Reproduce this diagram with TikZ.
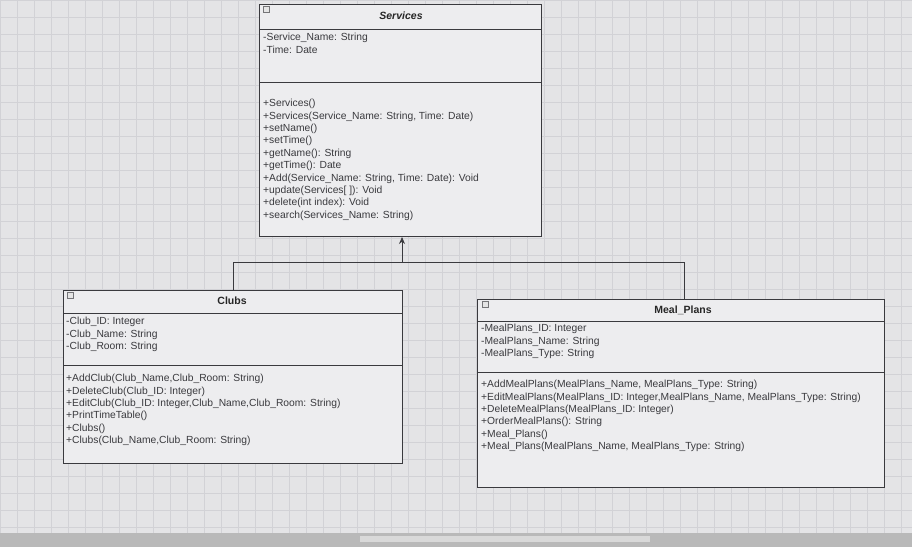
\documentclass[tikz,border=0pt]{standalone}
\usepackage{fontspec}
\setmainfont{Liberation Sans}
\usetikzlibrary{arrows.meta}
\definecolor{bg}{HTML}{E4E4E6}
\definecolor{gridc}{HTML}{D2D2D6}
\definecolor{boxfill}{HTML}{EDEDEF}
\definecolor{ink}{HTML}{3A3A3E}
\tikzset{
  umlbox/.style={draw=ink, line width=0.9pt, fill=boxfill, anchor=north west, inner sep=0pt},
  txt/.style={anchor=north west, inner sep=0pt, align=left, text=ink, font=\fontsize{10.3}{12.4}\selectfont},
  ttl/.style={anchor=center, inner sep=0pt, text=black!85, font=\fontsize{10.5}{12}\selectfont\bfseries},
  icon/.style={draw=ink!70, fill=white!80!gray, minimum size=6pt, inner sep=0pt, anchor=north west},
  conn/.style={draw=ink, line width=0.8pt}
}
\begin{document}
\begin{tikzpicture}[x=1pt,y=-1pt]
\useasboundingbox (0,0) rectangle (912,547);
\fill[bg] (0,0) rectangle (912,547);
\foreach \gx in {0,17,...,912} {\draw[gridc, line width=0.4pt] (\gx,0) -- (\gx,547);}
\foreach \gy in {0,17,...,547} {\draw[gridc, line width=0.4pt] (0,\gy) -- (912,\gy);}
\fill[gray!55] (0,533) rectangle (912,547);
\fill[gray!30] (360,536) rectangle (650,542);

% Services
\node[umlbox, minimum width=282, minimum height=232] (services) at (259,4) {};
\draw[ink, line width=0.8pt] (259,29) -- (541,29);
\draw[ink, line width=0.8pt] (259,82) -- (541,82);
\node[icon] (si) at (263,6) {};
\node[ttl, font=\fontsize{10.5}{12}\selectfont\bfseries\itshape] (st) at (401,16) {Services};
\node[txt] (sa) at (263,33) {-Service\_Name: String\\-Time: Date};
\node[txt] (sm) at (263,99) {+Services()\\+Services(Service\_Name: String, Time: Date)\\+setName()\\+setTime()\\+getName(): String\\+getTime(): Date\\+Add(Service\_Name: String, Time: Date): Void\\+update(Services[ ]): Void\\+delete(int index): Void\\+search(Services\_Name: String)};

% Clubs
\node[umlbox, minimum width=339, minimum height=173] (clubs) at (63,290) {};
\draw[ink, line width=0.8pt] (63,313) -- (402,313);
\draw[ink, line width=0.8pt] (63,365) -- (402,365);
\node[icon] (ci) at (67,292) {};
\node[ttl] (ct) at (232,301) {Clubs};
\node[txt] (ca) at (66,317) {-Club\_ID: Integer\\-Club\_Name: String\\-Club\_Room: String};
\node[txt] (cm) at (66,374) {+AddClub(Club\_Name,Club\_Room: String)\\+DeleteClub(Club\_ID: Integer)\\+EditClub(Club\_ID: Integer,Club\_Name,Club\_Room: String)\\+PrintTimeTable()\\+Clubs()\\+Clubs(Club\_Name,Club\_Room: String)};

% Meal_Plans
\node[umlbox, minimum width=407, minimum height=188] (meal) at (477,299) {};
\draw[ink, line width=0.8pt] (477,321) -- (884,321);
\draw[ink, line width=0.8pt] (477,372) -- (884,372);
\node[icon] (mi) at (482,301) {};
\node[ttl] (mt) at (683,310) {Meal\_Plans};
\node[txt] (ma) at (481,324) {-MealPlans\_ID: Integer\\-MealPlans\_Name: String\\-MealPlans\_Type: String};
\node[txt] (mm) at (481,380) {+AddMealPlans(MealPlans\_Name, MealPlans\_Type: String)\\+EditMealPlans(MealPlans\_ID: Integer,MealPlans\_Name, MealPlans\_Type: String)\\+DeleteMealPlans(MealPlans\_ID: Integer)\\+OrderMealPlans(): String\\+Meal\_Plans()\\+Meal\_Plans(MealPlans\_Name, MealPlans\_Type: String)};

% generalization connectors
\coordinate (j) at (402,262);
\draw[conn, -{Stealth[length=7pt,width=6pt]}] (j) -- (402,237);
\draw[conn] (233,290) -- (233,262) -- (684,262) -- (684,299);
\end{tikzpicture}
\end{document}
